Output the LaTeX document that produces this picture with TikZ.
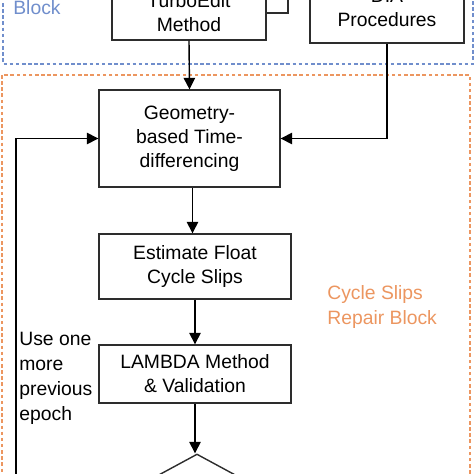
\documentclass[tikz,border=0pt]{standalone}
\usepackage{fontspec}
\setmainfont{Liberation Sans}
\usetikzlibrary{arrows.meta,shapes.geometric}
\definecolor{detblue}{RGB}{112,142,204}
\definecolor{repairorange}{RGB}{236,150,96}
\definecolor{boxgray}{RGB}{45,45,45}
\begin{document}
\begin{tikzpicture}[x=0.02cm,y=-0.02cm]
  % Define styles
  \tikzset{
    procbox/.style={draw=boxgray, line width=0.8pt, align=center, inner sep=0pt, font=\fontsize{11}{13.7}\selectfont},
    flow/.style={-{Triangle[length=6.5pt,width=6.5pt]}, line width=0.8pt},
    blockframe/.style={dash pattern=on 2pt off 1.5pt, line width=0.6pt},
    label/.style={font=\fontsize{11}{14.2}\selectfont, align=left, inner sep=0pt}
  }
  \useasboundingbox (0,0) rectangle (474,474);
  % Dashed blocks
  \draw[blockframe, detblue] (3,-40) rectangle (473,64);
  \draw[blockframe, repairorange] (2,75) rectangle (470,520);
  \node[label, detblue, anchor=west] (detlabel) at (13,8) {Block};
  \node[label, repairorange, anchor=west] (replabel) at (327,307) {Cycle Slips\\Repair Block};
  % Boxes
  \node[procbox, minimum width=3.08cm, minimum height=1.08cm] (turbo) at (189,13) {TurboEdit\\Method};
  \node[procbox, minimum width=3.08cm, minimum height=1.4cm] (dia) at (387,8) {DIA\\Procedures};
  \node[procbox, minimum width=3.62cm, minimum height=1.94cm] (geo) at (189.5,138.5) {Geometry-\\based Time-\\differencing};
  \node[procbox, minimum width=3.84cm, minimum height=1.3cm] (est) at (195,266.5) {Estimate Float\\Cycle Slips};
  \node[procbox, minimum width=3.84cm, minimum height=1.16cm] (lam) at (195,374) {LAMBDA Method\\\& Validation};
  \node[draw=boxgray, line width=0.8pt, diamond, minimum width=2.8cm, minimum height=1.52cm, inner sep=0pt] (chk) at (197,492) {};
  % Loop going up
  \coordinate (loopup) at (288,-20);
  \draw[line width=0.8pt, boxgray] (turbo.east) -- (turbo.east -| loopup) -- (loopup);
  % Main flow
  \draw[flow] (turbo.south) -- (geo.north);
  \draw[flow] (dia.south) |- (geo.east);
  \draw[flow] ([xshift=0.06cm]geo.south) -- ([xshift=0.06cm]geo.south |- est.north);
  \draw[flow] (est.south) -- (lam.north);
  \draw[flow] (lam.south) -- (lam.south |- chk.north);
  % Going back one epoch
  \coordinate (back) at (16,500);
  \draw[flow] (back) |- (geo.west);
  \node[label, anchor=west] (backlabel) at (19,378) {Use one\\more\\previous\\epoch};
\end{tikzpicture}
\end{document}
